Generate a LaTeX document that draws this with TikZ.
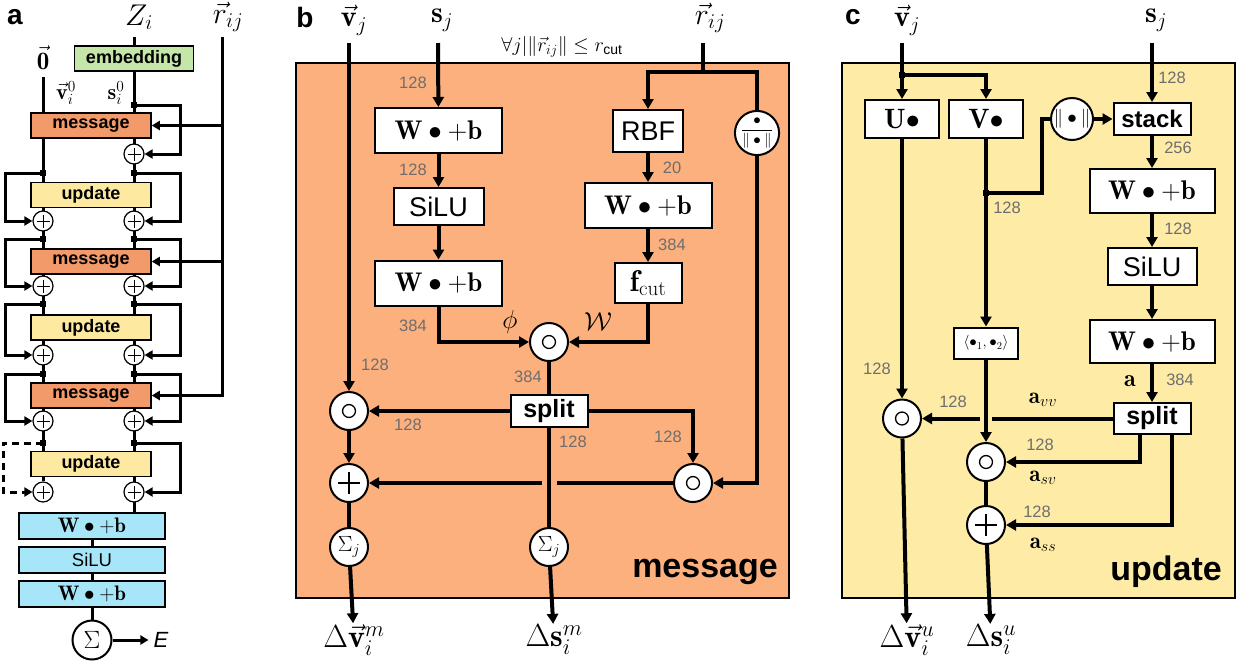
\RequirePackage{fix-cm}
\documentclass[tikz,border=0pt]{standalone}
\usepackage{fontspec}
\setsansfont{Liberation Sans}
\usetikzlibrary{arrows.meta,calc}
\pgfdeclarelayer{bg}\pgfdeclarelayer{lines}\pgfsetlayers{bg,lines,main}
\definecolor{orbg}{RGB}{252,176,125}
\definecolor{orbox}{RGB}{243,154,106}
\definecolor{yebg}{RGB}{254,236,166}
\definecolor{yebox}{RGB}{253,234,160}
\definecolor{grbox}{RGB}{196,230,169}
\definecolor{blbox}{RGB}{166,230,248}
\definecolor{numgray}{RGB}{110,110,110}
\newcommand\myfs[1]{\fontsize{#1}{#1}\selectfont}
\begin{document}
\begin{tikzpicture}[x=1pt,y=-1pt,
 ln/.style={line width=4pt},
 arr/.style={line width=4pt,-{Triangle[length=10pt,width=11pt]}},
 lna/.style={line width=3pt},
 arra/.style={line width=3pt,-{Triangle[length=8pt,width=9pt]}},
 box/.style={draw,line width=2pt,fill=white,inner sep=0pt},
 wbox/.style={box,minimum width=127pt,minimum height=45pt,font=\myfs{27}},
 sbox/.style={box,font=\sffamily\myfs{27}},
 bbox/.style={box,font=\sffamily\bfseries\myfs{25}},
 abox/.style={draw,line width=1.5pt,inner sep=0pt,minimum width=120pt,minimum height=25pt,font=\sffamily\bfseries\myfs{18}},
 blb/.style={draw,line width=1.5pt,fill=blbox,inner sep=0pt,minimum width=146pt,minimum height=26pt},
 hd/.style={circle,draw,line width=2pt,fill=white,minimum size=#1,inner sep=0pt,
   path picture={\draw[line width=1.3pt] (path picture bounding box.center) circle[radius=0.17*#1];}},
 pls/.style={circle,draw,line width=2pt,fill=white,minimum size=#1,inner sep=0pt,
   path picture={\draw[line width=1.2pt] ([xshift=-0.28*#1]path picture bounding box.center) -- ([xshift=0.28*#1]path picture bounding box.center)
     ([yshift=-0.28*#1]path picture bounding box.center) -- ([yshift=0.28*#1]path picture bounding box.center);}},
 pla/.style={circle,draw,line width=1.2pt,fill=white,minimum size=20pt,inner sep=0pt,
   path picture={\draw[line width=1pt] ([xshift=-6.5pt]path picture bounding box.center) -- ([xshift=6.5pt]path picture bounding box.center)
     ([yshift=-6.5pt]path picture bounding box.center) -- ([yshift=6.5pt]path picture bounding box.center);}},
 circ/.style={circle,draw,line width=2pt,fill=white,minimum size=#1,inner sep=0pt},
 dot/.style={rectangle,fill=black,inner sep=0pt,minimum size=6.5pt},
 num/.style={font=\sffamily\myfs{16.5},text=numgray,inner sep=0pt},
 lab/.style={font=\myfs{30},inner sep=1pt},
 olab/.style={font=\myfs{32},inner sep=1pt},
 plab/.style={font=\sffamily\bfseries\myfs{28},inner sep=0pt},
 big/.style={font=\sffamily\bfseries\myfs{34},inner sep=0pt,anchor=east}
]
\useasboundingbox (0,0) rectangle (1238,662);
\begin{pgfonlayer}{bg}
\draw[line width=2pt, fill=orbg] (296,63) rectangle (789,598);
\draw[line width=2pt, fill=yebg] (842,63) rectangle (1235,598);
\end{pgfonlayer}

%================ panel a
\node[plab] (la) at (15,17) {a};
\node[lab] (Zi) at (139,17) {$Z_i$};
\coordinate (ztop) at (134,37);
\node[lab] (ra) at (228,17) {$\vec r_{ij}$};
\coordinate (ratop) at (222,37);
\node[font=\myfs{25},inner sep=0pt] (zero) at (43,58) {$\vec{\mathbf 0}$};
\coordinate (vtop) at (43,77);
\node[abox,fill=grbox,minimum width=119pt] (emb) at (134,58.5) {embedding};
\node[font=\myfs{22},inner sep=0pt] (v0) at (66,93) {$\vec{\mathbf v}_i^0$};
\node[font=\myfs{22},inner sep=0pt] (s0) at (116,93) {$\mathbf s_i^0$};
\node[abox,fill=orbox] (msg1) at (91,125.5) {message};
\node[abox,fill=yebox] (upd1) at (91,195) {update};
\node[abox,fill=orbox] (msg2) at (91,261.5) {message};
\node[abox,fill=yebox] (upd2) at (91,327.5) {update};
\node[abox,fill=orbox] (msg3) at (91,395.5) {message};
\node[abox,fill=yebox] (upd3) at (91,464) {update};
\node[pla] (ps0) at (134,154) {};
\node[pla] (ps1) at (134,221) {};
\node[pla] (ps2) at (134,286) {};
\node[pla] (ps3) at (134,355) {};
\node[pla] (ps4) at (134,421) {};
\node[pla] (ps5) at (134,492) {};
\node[pla] (pl1) at (43,221) {};
\node[pla] (pl2) at (43,286) {};
\node[pla] (pl3) at (43,355) {};
\node[pla] (pl4) at (43,421) {};
\node[pla] (pl5) at (43,492) {};
\node[dot] (ds0) at (134,105) {};
\node[dot] (ds1) at (134,173) {};
\node[dot] (ds2) at (134,239) {};
\node[dot] (ds3) at (134,304) {};
\node[dot] (ds4) at (134,374) {};
\node[dot] (ds5) at (134,443) {};
\node[dot] (dl1) at (43,173) {};
\node[dot] (dl2) at (43,239) {};
\node[dot] (dl3) at (43,304) {};
\node[dot] (dl4) at (43,374) {};
\node[dot] (dl5) at (43,443) {};
\node[blb,font=\myfs{21}] (bl1) at (92,526) {$\mathbf W\bullet+\mathbf b$};
\node[blb,font=\sffamily\myfs{18.5}] (bl2) at (92,560) {SiLU};
\node[blb,font=\myfs{21}] (bl3) at (92,594) {$\mathbf W\bullet+\mathbf b$};
\node[circ=39pt,font=\myfs{25}] (sig) at (92,640) {$\Sigma$};
\node[font=\sffamily\itshape\myfs{22},inner sep=5pt] (E) at (161,640) {E};

\begin{pgfonlayer}{lines}
\draw[lna] (ztop) -- (emb);
\draw[lna] (vtop) -- (pl5);
\draw[lna] (emb) -- (bl1.north -| emb);
\draw[arra] (ratop) |- (msg3);
\draw[arra] (ratop |- msg1) -- (msg1);
\draw[arra] (ratop |- msg2) -- (msg2);
\foreach \k in {0,...,5}{\draw[arra] (ds\k.center) -- ++(46,0) |- (ps\k);}
\foreach \k in {1,...,4}{\draw[arra] (dl\k.center) -- ++(-38,0) |- (pl\k);}
\draw[arra,dash pattern=on 7pt off 5pt] (dl5.center) -- ++(-40,0) |- (pl5);
\draw[lna] (bl1) -- (bl2);
\draw[lna] (bl2) -- (bl3);
\draw[lna] (bl3) -- (sig);
\draw[arra] (sig) -- (E);
\end{pgfonlayer}

%================ panel b
\node[plab] (lb) at (305,17) {b};
\node[lab] (vjb) at (354,20) {$\vec{\mathbf v}_j$};
\coordinate (vbtop) at (349,43);
\node[lab] (sjb) at (442,20) {$\mathbf s_j$};
\coordinate (sbtop) at (438,43);
\node[lab] (rjb) at (710,18) {$\vec r_{ij}$};
\coordinate (rbtop) at (703,43);
\coordinate (jr) at (703,72);
\node[font=\myfs{20}] (cond) at (562,47) {$\forall j|\|\vec r_{ij}\|\leq r_{\mathsf{cut}}$};
\node[wbox] (w1) at (438.5,130.5) {$\mathbf W\bullet+\mathbf b$};
\node[sbox,minimum width=90pt,minimum height=37pt] (silu1) at (438.5,206.5) {SiLU};
\node[wbox] (w2) at (438.5,283) {$\mathbf W\bullet+\mathbf b$};
\node[sbox,minimum width=70pt,minimum height=42pt] (rbf) at (648,131) {RBF};
\node[wbox] (w3) at (648,205.5) {$\mathbf W\bullet+\mathbf b$};
\node[box,minimum width=67pt,minimum height=40pt,font=\myfs{30}] (fcut) at (648,283) {$\mathbf f_{\mathrm{cut}}$};
\node[hd=38pt] (h1) at (549,342) {};
\node[circ=42pt,font=\myfs{15}] (frac) at (757,133) {$\displaystyle\frac{\bullet}{\|\bullet\|}$};
\node[bbox,minimum width=77pt,minimum height=32pt] (split) at (549,411) {split};
\node[hd=38pt] (hv) at (349,411) {};
\node[hd=38pt] (hr) at (693,483) {};
\node[pls=38pt] (plusb) at (349,483) {};
\node[circ=38pt,font=\myfs{22}] (sumv) at (349,547) {$\Sigma_j$};
\node[circ=38pt,font=\myfs{22}] (sums) at (549,547) {$\Sigma_j$};
\node[olab] (dvm) at (354,640) {$\Delta\vec{\mathbf v}_i^m$};
\node[olab] (dsm) at (554,640) {$\Delta\mathbf s_i^m$};
\coordinate (gapR) at (557,483);
\coordinate (gapL) at (542,483);
\node[font=\myfs{26}] (phi) at (510,322) {$\phi$};
\node[font=\myfs{26}] (calw) at (598,322) {$\mathcal W$};
\node[num] at (413,83) {128};
\node[num] at (413,170) {128};
\node[num] at (413,326) {384};
\node[num] at (672,168) {20};
\node[num] at (672,245) {384};
\node[num] at (375,365) {128};
\node[num] at (528,377) {384};
\node[num] at (408,425) {128};
\node[num] at (573,442) {128};
\node[num] at (668,437) {128};
\node[big] (msgl) at (778,572) {message};

\begin{pgfonlayer}{lines}
\draw[arr] (vbtop) -- (hv);
\draw[arr] (sbtop) -- (w1);
\draw[arr] (w1) -- (silu1);
\draw[arr] (silu1) -- (w2);
\draw[arr] (w2.south) |- (h1);
\draw[ln] (rbtop) -- (jr);
\draw[arr] (jr) -| (rbf);
\draw[ln] (jr) -| (frac);
\draw[arr] (rbf) -- (w3);
\draw[arr] (w3) -- (fcut);
\draw[arr] (fcut.south) |- (h1);
\draw[arr] (frac.south) |- (hr);
\draw[ln] (h1) -- (split);
\draw[arr] (split) -- (hv);
\draw[arr] (split.east) -| (hr);
\draw[ln] (split) -- (sums);
\draw[arr] (sums) -- (dsm);
\draw[arr] (hv) -- (plusb);
\draw[ln] (hr) -- (gapR);
\draw[arr] (gapL) -- (plusb);
\draw[ln] (plusb) -- (sumv);
\draw[arr] (sumv) -- (dvm);
\end{pgfonlayer}

%================ panel c
\node[plab] (lc) at (853,17) {c};
\node[lab] (vjc) at (907,20) {$\vec{\mathbf v}_j$};
\coordinate (vctop) at (902,43);
\node[lab] (sjc) at (1156,20) {$\mathbf s_j$};
\coordinate (sctop) at (1152,43);
\node[dot] (jv) at (902,75) {};
\node[box,minimum width=74pt,minimum height=38pt,font=\myfs{28}] (ubox) at (902,119) {$\mathbf U\bullet$};
\node[box,minimum width=74pt,minimum height=38pt,font=\myfs{28}] (vbox) at (986,119) {$\mathbf V\bullet$};
\node[dot] (jv2) at (986,193) {};
\node[circ=42pt,font=\myfs{19}] (norm) at (1072,119) {$\|\bullet\|$};
\node[bbox,minimum width=77pt,minimum height=32pt,font=\sffamily\bfseries\myfs{24}] (stack) at (1152,119) {stack};
\node[wbox,minimum width=125pt,minimum height=44pt] (wc1) at (1152,191) {$\mathbf W\bullet+\mathbf b$};
\node[sbox,minimum width=89pt,minimum height=37pt] (siluc) at (1152,266.5) {SiLU};
\node[wbox,minimum width=125pt,minimum height=43pt] (wc2) at (1152,341.5) {$\mathbf W\bullet+\mathbf b$};
\node[bbox,minimum width=77pt,minimum height=31pt] (splitc) at (1152,418.5) {split};
\node[box,minimum width=64pt,minimum height=31pt,font=\myfs{15}] (inner) at (986,343) {$\langle\bullet_1,\bullet_2\rangle$};
\node[hd=38pt] (hcv) at (902,418.5) {};
\node[hd=38pt] (hcs) at (986,462) {};
\node[pls=38pt] (pc) at (986,525) {};
\node[olab] (dvu) at (907,640) {$\Delta\vec{\mathbf v}_i^u$};
\node[olab] (dsu) at (991,640) {$\Delta\mathbf s_i^u$};
\coordinate (gc1) at (992,418.5);
\coordinate (gc2) at (980,418.5);
\node[num] at (1172,78) {128};
\node[num] at (1178,148) {256};
\node[num] at (1178,229) {128};
\node[num] at (1007,208) {128};
\node[num] at (877,369) {128};
\node[font=\myfs{24}] at (1130,381) {$\mathbf a$};
\node[num] at (1180,380) {384};
\node[num] at (953,402) {128};
\node[font=\myfs{23}] at (1043,400) {$\mathbf a_{vv}$};
\node[num] at (1040,445) {128};
\node[font=\myfs{23}] at (1043,478) {$\mathbf a_{sv}$};
\node[num] at (1037,512) {128};
\node[font=\myfs{23}] at (1043,545) {$\mathbf a_{ss}$};
\node[big] (updl) at (1222,572) {update};

\begin{pgfonlayer}{lines}
\draw[ln] (vctop) -- (jv.center);
\draw[arr] (jv.center) -- (ubox);
\draw[arr] (jv.center) -| (vbox);
\draw[arr] (ubox) -- (hcv);
\draw[arr] (vbox) -- (inner);
\draw[ln] (jv2.center) -- ++(56,0) |- (norm);
\draw[arr] (norm) -- (stack);
\draw[arr] (sctop) -- (stack);
\draw[arr] (stack) -- (wc1);
\draw[arr] (wc1) -- (siluc);
\draw[arr] (siluc) -- (wc2);
\draw[arr] (wc2) -- (splitc);
\draw[ln] (splitc) -- (gc1);
\draw[arr] (gc2) -- (hcv);
\draw[arr] ([xshift=-12pt]splitc.south) |- (hcs);
\draw[arr] ([xshift=20pt]splitc.south) |- (pc);
\draw[arr] (inner) -- (hcs);
\draw[ln] (hcs) -- (pc);
\draw[arr] (pc) -- (dsu);
\draw[arr] (hcv) -- (dvu);
\end{pgfonlayer}
\end{tikzpicture}
\end{document}
